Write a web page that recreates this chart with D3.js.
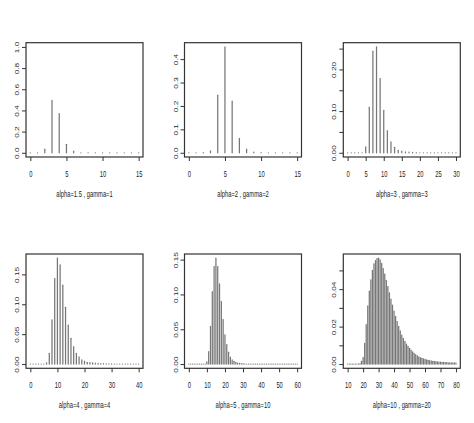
<!DOCTYPE html>
<html>
<head>
<meta charset="utf-8">
<script src="https://cdn.jsdelivr.net/npm/d3@7"></script>
<style>
  body { margin: 0; background: #fff; }
  text { font-family: "Liberation Sans", Arial, sans-serif; fill: #222; font-size: 8.3px; }
</style>
</head>
<body>
<svg id="chart" width="474" height="423"></svg>
<script>
// panel titles (x axis labels)
const titles = [
  "alpha=1.5 , gamma=1",
  "alpha=2 , gamma=2",
  "alpha=3 , gamma=3",
  "alpha=4 , gamma=4",
  "alpha=5 , gamma=10",
  "alpha=10 , gamma=20"
];

// first x value of each series (values are at consecutive integers)
const xStart = [0, 0, 0, 0, 0, 10];

// probabilities
const p1 = [0, 0, 0.034, 0.495, 0.37, 0.08, 0.015, 0, 0, 0, 0, 0, 0, 0, 0, 0];
const p2 = [0, 0, 0.001, 0.0085, 0.246, 0.452, 0.221, 0.061, 0.016, 0.003, 0.0005, 0, 0, 0, 0, 0];
const p3 = [0, 0, 0, 0, 0,
  0.014, 0.109, 0.244, 0.254, 0.178, 0.102, 0.053, 0.026, 0.013, 0.006,
  0.004, 0.002, 0.0015, 0.001, 0.0005,
  0, 0, 0, 0, 0, 0, 0, 0, 0, 0, 0];
const p4 = [0, 0, 0, 0, 0, 0,
  0.002, 0.018, 0.074, 0.143, 0.177, 0.166, 0.132, 0.095, 0.065, 0.043,
  0.029, 0.018, 0.012, 0.007, 0.005, 0.003, 0.0025, 0.002, 0.0015, 0.001,
  0.0008, 0.0006, 0.0005, 0.0004, 0.0003,
  0, 0, 0, 0, 0, 0, 0, 0, 0, 0];
const p5 = [0, 0, 0, 0, 0, 0, 0, 0, 0, 0,
  0.003, 0.018, 0.054, 0.104, 0.140, 0.152, 0.140, 0.115, 0.090, 0.064,
  0.042, 0.028, 0.017, 0.010, 0.006, 0.004, 0.0025, 0.0015, 0.001, 0.0007, 0.0005,
  0, 0, 0, 0, 0, 0, 0, 0, 0, 0, 0, 0, 0, 0, 0,
  0, 0, 0, 0, 0, 0, 0, 0, 0, 0, 0, 0, 0, 0, 0];
const p6 = [0, 0, 0, 0, 0, 0, 0, 0,
  0.0003, 0.0015, 0.0035, 0.011, 0.021, 0.031, 0.039, 0.045, 0.050, 0.0535,
  0.0552, 0.0563, 0.0565, 0.0556, 0.0537, 0.051, 0.048, 0.0447, 0.0414, 0.038,
  0.0347, 0.0315, 0.0283, 0.0254, 0.0227, 0.0201, 0.0177, 0.0155, 0.0137, 0.0121,
  0.0107, 0.0095, 0.0084, 0.0074, 0.0065, 0.0057, 0.0050, 0.0044, 0.0039, 0.0035,
  0.0031, 0.0028, 0.0025, 0.0022, 0.0020, 0.0018, 0.0017, 0.0015, 0.0014, 0.0013,
  0.0012, 0.0011, 0.0010, 0.0009, 0.0009, 0.0008, 0.0008, 0.0007, 0.0007, 0.0006,
  0.0006, 0.0006, 0.0005];

const series = [p1, p2, p3, p4, p5, p6];

// axis ticks
const xTicks = [
  [0, 5, 10, 15],
  [0, 5, 10, 15],
  [0, 5, 10, 15, 20, 25, 30],
  [0, 10, 20, 30, 40],
  [0, 10, 20, 30, 40, 50, 60],
  [10, 20, 30, 40, 50, 60, 70, 80]
];
const yTicks = [
  [0, 0.2, 0.4, 0.6, 0.8, 1.0],
  [0, 0.1, 0.2, 0.3, 0.4],
  [0, 0.05, 0.10, 0.15, 0.20, 0.25],
  [0, 0.05, 0.10, 0.15],
  [0, 0.05, 0.10, 0.15],
  [0, 0.01, 0.02, 0.03, 0.04, 0.05]
];
const yLabels = [
  ["0.0", "0.2", "0.4", "0.6", "0.8", "1.0"],
  ["0.0", "0.1", "0.2", "0.3", "0.4"],
  ["0.00", "", "0.10", "", "0.20", ""],
  ["0.00", "0.05", "0.10", "0.15"],
  ["0.00", "0.05", "0.10", "0.15"],
  ["0.00", "", "0.02", "", "0.04", ""]
];
// upper y limit (first panel uses a fixed limit)
const yLimit = [1.0, null, null, null, null, null];

// layout of the 2x3 grid
const colLeft = [26, 184.5, 343.3];
const rowTop = [42.7, 254];
const boxW = 117;
const boxH = 114.3;
const squeeze = 0.7; // text in the picture is horizontally compressed

const svg = d3.select("#chart");

function drawPanel(i) {
  const values = series[i];
  const x0 = xStart[i];
  const x1 = x0 + values.length - 1;
  const ymax = yLimit[i] != null ? yLimit[i] : d3.max(values);

  const g = svg.append("g")
    .attr("transform", `translate(${colLeft[i % 3]},${rowTop[Math.floor(i / 3)]})`);

  // R style 4% padding on both axes
  const xpad = (x1 - x0) * 0.04;
  const xscale = d3.scaleLinear().domain([x0 - xpad, x1 + xpad]).range([0, boxW]);
  const yscale = d3.scaleLinear().domain([-0.04 * ymax, 1.04 * ymax]).range([boxH, 0]);

  const data = values.map((v, k) => ({ x: x0 + k, p: v }));

  // type = "h" bars, zero heights leave a dot because of the round caps
  g.append("g")
    .selectAll("path")
    .data(data)
    .join("path")
    .attr("d", (d) => `M${xscale(d.x)},${yscale(0)}V${yscale(d.p)}`)
    .attr("stroke", "#777")
    .attr("stroke-width", 1.25)
    .attr("stroke-linecap", "round")
    .attr("fill", "none");

  // x axis
  const xaxis = d3.axisBottom(xscale).tickValues(xTicks[i]).tickSize(4).tickFormat(d3.format("d"));
  const g_xaxis = g.append("g").attr("transform", `translate(0,${boxH})`).call(xaxis);
  g_xaxis.select(".domain").remove();
  g_xaxis.selectAll("line").attr("stroke", "#333");
  g_xaxis.selectAll("text")
    .attr("y", 0).attr("dy", null)
    .attr("transform", `translate(0,20) scale(${squeeze},1)`)
    .attr("fill", "#222")
    .style("font-size", "8.3px");

  // y axis, labels parallel to the axis
  const yaxis = d3.axisLeft(yscale).tickValues(yTicks[i]).tickSize(4)
    .tickFormat((d, k) => yLabels[i][k]);
  const g_yaxis = g.append("g").call(yaxis);
  g_yaxis.select(".domain").remove();
  g_yaxis.selectAll("line").attr("stroke", "#333");
  g_yaxis.selectAll("text")
    .attr("x", 0).attr("dy", null)
    .attr("text-anchor", "middle")
    .attr("transform", `translate(-7,0) scale(${squeeze},1) rotate(-90)`)
    .attr("fill", "#222")
    .style("font-size", "8.3px");

  // box
  g.append("rect")
    .attr("width", boxW).attr("height", boxH)
    .attr("fill", "none").attr("stroke", "#333").attr("stroke-width", 1.2);

  // x label
  g.append("text")
    .attr("text-anchor", "middle")
    .attr("transform", `translate(${boxW / 2},${boxH + 39.5}) scale(${squeeze},1)`)
    .text(titles[i]);
}

for (let i = 0; i < 6; i++) drawPanel(i);
</script>
</body>
</html>
